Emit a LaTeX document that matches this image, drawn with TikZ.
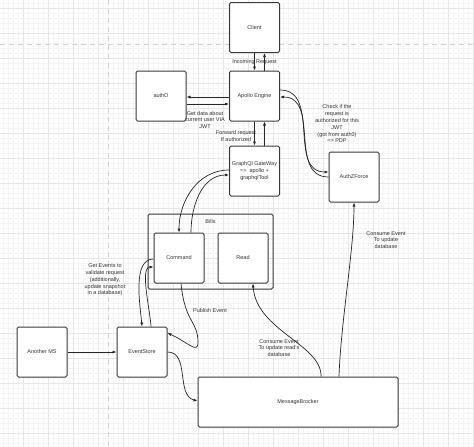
\documentclass[tikz,border=0pt]{standalone}
\usepackage{fontspec}
\setmainfont{Liberation Sans}
\usetikzlibrary{positioning,arrows.meta,calc}
\definecolor{boxline}{HTML}{3A3A3A}
\definecolor{textgray}{HTML}{333333}
\definecolor{gridminor}{HTML}{F5F5F5}
\definecolor{gridmajor}{HTML}{E6E6E6}
\definecolor{dashgray}{HTML}{D2D2D2}

\begin{document}
\begin{tikzpicture}[
    x=1pt, y=-1pt,
    >={Latex[length=4pt,width=3pt]},
    every node/.style={font=\fontsize{5.5}{6.8}\selectfont, text=textgray},
    service/.style={
        draw=boxline,
        line width=1pt,
        rounded corners=1.5pt,
        fill=white,
        minimum width=50pt,
        minimum height=50pt,
        inner sep=1pt,
        align=center
    },
    group/.style={
        draw=boxline,
        line width=1pt,
        rounded corners=1.5pt,
        minimum width=125pt,
        minimum height=75pt
    },
    flow/.style={->, line width=0.7pt, draw=black!85},
    note/.style={align=center, inner sep=0pt}
]

\useasboundingbox (0,0) rectangle (474,447);
\fill[white] (0,0) rectangle (474,447);
\foreach \gx in {3,8,...,473} \draw[gridminor, line width=0.4pt] (\gx,0) -- (\gx,447);
\foreach \gy in {3,8,...,443} \draw[gridminor, line width=0.4pt] (0,\gy) -- (474,\gy);
\foreach \gx in {23,48,...,473} \draw[gridmajor, line width=0.5pt] (\gx,0) -- (\gx,447);
\foreach \gy in {8,33,...,433} \draw[gridmajor, line width=0.5pt] (0,\gy) -- (474,\gy);
\draw[dashgray, line width=0.8pt, dash pattern=on 5pt off 4pt] (0,44) -- (474,44);
\draw[dashgray, line width=0.8pt, dash pattern=on 5pt off 4pt] (108,0) -- (108,447);

\node[service] (client) at (254.5,27.5) {Client};
\node[service] (apollo) at (254.5,96) {Apollo Engine};
\node[service] (autho) at (161,96) {authO};
\node[service] (gateway) at (254.5,171) {GraphQl GateWay\\=>\ \ apollo +\\graphqlTool};
\node[service] (authz) at (354,177) {AuthZForce};
\node[group] (bills) at (210.5,251.5) {};
\node[note, below=5.5pt of bills.north] (billstitle) {Bills};
\node[service] (command) at (179,258) {Command};
\node[service, right=13pt of command] (read) {Read};
\node[service] (anotherms) at (42,352) {Another MS};
\node[service] (eventstore) at (142,352) {EventStore};
\node[service, minimum width=200pt] (broker) at (298,402) {MessageBrocker};

\draw[flow] (client.south) -- node[note] {Incoming Request} (apollo.north);
\draw[flow] ([xshift=10pt]apollo.north) -- ([xshift=10pt]client.south);

\draw[flow] ([yshift=-1pt]apollo.west) -- ([yshift=-1pt]autho.east);
\draw[flow] ([yshift=-8pt]autho.east) -- ([yshift=-8pt]apollo.west);
\node[note] (authonote) at (205,120) {Get data about\\current user VIA\\JWT};

\draw[flow] (apollo.south) -- (gateway.north);
\draw[flow] ([xshift=10pt]gateway.north) -- ([xshift=10pt]apollo.south);
\node[note] (forwardnote) at (236,136) {Forward request\\If authorized};

\draw[flow] ([yshift=6pt]apollo.east) to[out=0, in=180, looseness=1.1] ([yshift=5pt]authz.west);
\draw[flow] (authz.west) to[out=180, in=0, looseness=1.1] ([yshift=-1pt]apollo.east);
\node[note] (pdpnote) at (337,124) {Check if the\\request is\\authorized for this\\JWT\\(got from auth0)\\=> PDP};

\draw[flow] ([xshift=12pt]command.north) to[out=90, in=180] ([yshift=-4pt]gateway.west);
\draw[flow] ([yshift=1pt]gateway.west) to[out=180, in=90] (command.north);

\draw[flow] ([yshift=-1pt]command.west) to[out=180, in=95, looseness=0.8] (eventstore.north);
\draw[flow] ([xshift=9pt]eventstore.north) to[out=92, in=180, looseness=0.6] ([yshift=-9pt]command.west);
\node[note] (eventsnote) at (105,280) {Get Events to\\validate request\\(additionally,\\update snapshot\\in a database)};

\draw[flow] ([xshift=2pt]command.south) .. controls +(4,40) and +(0,-22) .. ++(17,59)
    .. controls +(0,12) and +(20,9) .. ([yshift=19pt]eventstore.east);
\node[note] (publishnote) at (210,311) {Publish Event};

\draw[flow] (eventstore.east) to[out=0, in=165] ([yshift=1pt]broker.west);
\draw[flow] (anotherms) -- (eventstore);

\draw[flow] ([xshift=23pt]broker.north) .. controls +(1,-32) and +(3,47) .. ([xshift=10pt]read.south);
\node[note] (readnote) at (279,348) {Consume Event\\To update read's\\database};

\draw[flow] ([xshift=41pt]broker.north) .. controls +(2,-57) and +(0,48) .. (authz.south);
\node[note] (authznote) at (386,240) {Consume Event\\To update\\database};

\end{tikzpicture}
\end{document}
